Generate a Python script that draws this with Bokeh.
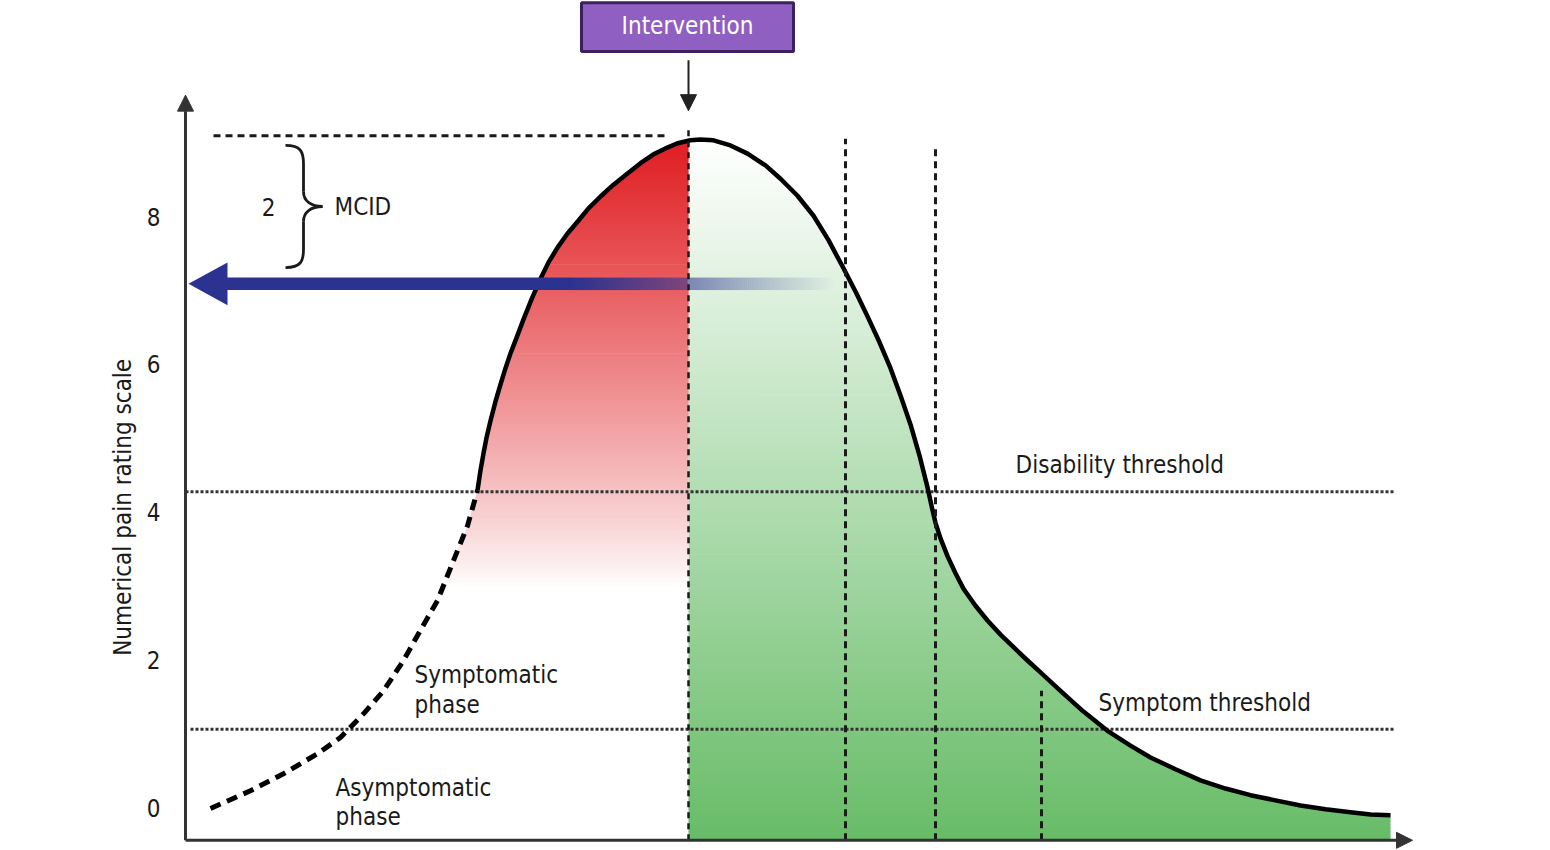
import numpy as np
from bokeh.plotting import figure
from bokeh.models import Range1d, Arrow, NormalHead, ColumnDataSource
from bokeh.core.properties import value
from bokeh.embed import file_html
from bokeh.resources import INLINE

# ---------------- data (x: time units, y: pain rating) ----------------
curve_x = [0.25, 0.65, 0.98, 1.32, 1.55, 1.78, 1.98, 2.18, 2.35, 2.52, 2.68, 2.82, 2.92,
           2.95, 2.98, 3.01, 3.05, 3.10, 3.15, 3.20, 3.25, 3.31, 3.38,
           3.46, 3.55, 3.63, 3.72, 3.82, 3.92, 4.03, 4.15, 4.28, 4.42,
           4.55, 4.68, 4.80, 4.92, 5.05, 5.15,
           5.28, 5.45, 5.62, 5.80, 5.95, 6.12, 6.28, 6.43, 6.58, 6.71,
           6.82, 6.94, 7.05, 7.15, 7.25, 7.34, 7.42, 7.46, 7.50, 7.55, 7.62,
           7.70, 7.78, 7.90, 8.02, 8.15, 8.28, 8.42, 8.55, 8.75, 8.98,
           9.22, 9.45, 9.65, 9.90, 10.15, 10.40, 10.65, 10.90, 11.15, 11.40,
           11.65, 11.85, 12.05]
curve_y = [0.00, 0.24, 0.47, 0.74, 0.96, 1.28, 1.59, 2.00, 2.41, 2.81, 3.35, 3.82, 4.30,
           4.57, 4.80, 5.01, 5.24, 5.50, 5.73, 5.95, 6.15, 6.36, 6.61,
           6.88, 7.16, 7.38, 7.58, 7.77, 7.93, 8.11, 8.27, 8.43, 8.58,
           8.72, 8.84, 8.92, 8.99, 9.03, 9.04,
           9.03, 8.96, 8.85, 8.69, 8.51, 8.28, 8.01, 7.68, 7.30, 6.96,
           6.65, 6.30, 5.95, 5.58, 5.19, 4.77, 4.34, 4.09, 3.86, 3.65, 3.41,
           3.18, 2.97, 2.74, 2.54, 2.35, 2.18, 2.00, 1.84, 1.59, 1.31,
           1.05, 0.85, 0.69, 0.53, 0.38, 0.27, 0.18, 0.11, 0.04, -0.01,
           -0.05, -0.08, -0.09]
symptom_onset_index = 12          # curve is dashed before this point
peak_index = 38

intervention_x = 5.03
intervention_line_top = 9.23
followup_x = [6.60, 7.50, 8.56]
followup_top = [9.05, 8.96, 1.59]

baseline_pain = 9.09
baseline_line_x = [0.28, 4.80]
mcid_top = 8.96
mcid_bottom = 7.31
mcid_value = "2"

improvement_level = 7.09
improvement_tip = 0.03
improvement_solid_to = 3.85
improvement_fade_to = 6.50

disability_threshold = 4.28
symptom_threshold = 1.07
threshold_x_end = 12.10

y_ticks = [0, 2, 4, 6, 8]
y_tick_labels = ["0", "2", "4", "6", "8"]
axis_title = "Numerical pain rating scale"

phase_labels = ["Symptomatic", "phase", "Asymptomatic", "phase"]
threshold_labels = ["Disability threshold", "Symptom threshold"]
intervention_label = "Intervention"
mcid_label = "MCID"

# ---------------- layout / style constants ----------------
FONT = "DejaVu Sans Condensed"
FS = "24px"
TXT = "#1a1a1a"
AX = "#333333"
y_floor = -0.43
x_axis_end = 12.27
y_axis_top = 9.64
RED = (224, 34, 38)
GREEN = (103, 188, 103)
BLUE = (43, 50, 144)
red_fade_bottom = 3.01


def hexc(c):
    return "#%02x%02x%02x" % tuple(int(round(min(255, max(0, v)))) for v in c)


def over(bg, c, a):
    return tuple(b + (ci - b) * a for b, ci in zip(bg, c))


WHITE = (255, 255, 255)


def red_alpha(y):
    return float(np.clip((y - red_fade_bottom) / 5.88, 0, 1) ** 0.85)


def green_alpha(y):
    return float(np.clip((9.03 - y) / 9.46, 0, 1))


phase_x = [2.29, 2.29, 1.50, 1.50]
phase_y = [1.80, 1.40, 0.28, -0.11]
threshold_label_x = [8.30, 9.13]
threshold_label_y = [4.64, 1.43]

p = figure(width=1550, height=850, x_range=Range1d(-1.85, 13.65),
           y_range=Range1d(-0.56757, 10.91892), output_backend="svg",
           toolbar_location=None, min_border=0,
           x_axis_location=None, y_axis_location=None)
p.grid.visible = False
p.outline_line_color = None
p.background_fill_color = "white"
p.border_fill_color = "white"

cx = np.array(curve_x)
cy = np.array(curve_y)
asc_x, asc_y = cx[:peak_index + 1], cy[:peak_index + 1]
desc_x, desc_y = cx[peak_index:], cy[peak_index:]
y_at_int = float(np.interp(intervention_x, cx, cy))


def x_right(y):
    return float(np.interp(y, desc_y[::-1], desc_x[::-1]))


def x_left(y):
    return float(np.interp(y, asc_y, asc_x))


NB = 220
eps = 0.01

# ---- green (post-intervention) area: opaque horizontal bands ----
g_edges = np.linspace(y_floor, y_at_int, NB + 1)
gxs, gys, gc = [], [], []
for j in range(NB):
    lo = g_edges[j] - (eps if j > 0 else 0.0)
    hi = g_edges[j + 1]
    m = (desc_y > lo) & (desc_y < hi)
    gxs.append([intervention_x, x_right(lo)] + list(desc_x[m][::-1]) + [x_right(hi), intervention_x])
    gys.append([lo, lo] + list(desc_y[m][::-1]) + [hi, hi])
    gc.append(hexc(over(WHITE, GREEN, green_alpha((g_edges[j] + hi) / 2))))
p.patches(xs="xs", ys="ys", fill_color="c", line_color=None,
          source=ColumnDataSource(dict(xs=gxs, ys=gys, c=gc)))

# ---- red (pre-intervention) area: opaque horizontal bands ----
r_edges = np.linspace(red_fade_bottom, y_at_int, NB + 1)
rxs, rys, rc = [], [], []
for j in range(NB):
    lo = r_edges[j] - (eps if j > 0 else 0.0)
    hi = r_edges[j + 1]
    m = (asc_y > lo) & (asc_y < hi) & (asc_x < intervention_x)
    rxs.append([x_left(lo), intervention_x, intervention_x, x_left(hi)] + list(asc_x[m][::-1]))
    rys.append([lo, lo, hi, hi] + list(asc_y[m][::-1]))
    rc.append(hexc(over(WHITE, RED, red_alpha((r_edges[j] + hi) / 2))))
p.patches(xs="xs", ys="ys", fill_color="c", line_color=None,
          source=ColumnDataSource(dict(xs=rxs, ys=rys, c=rc)))

# ---- reference lines (horizontal) ----
p.line(baseline_line_x, [baseline_pain, baseline_pain], line_color="#1a1a1a",
       line_width=3, line_dash="7 5")
p.line([0, threshold_x_end], [disability_threshold, disability_threshold],
       line_color=AX, line_width=3, line_dash="3 2")
p.line([0.05, threshold_x_end], [symptom_threshold, symptom_threshold],
       line_color=AX, line_width=3, line_dash="3 2")

# ---- pain curve ----
k = symptom_onset_index
p.line(curve_x[:k + 1], curve_y[:k + 1], line_color="black", line_width=5, line_dash="11 7")
p.line(curve_x[k:], curve_y[k:], line_color="black", line_width=4.5, line_join="round")

# ---- blue improvement arrow with fading shaft (opaque pre-blended slices) ----
half = 0.084
yl = improvement_level
xl_b, xr_b = x_left(yl), x_right(yl)
bg_red = over(WHITE, RED, red_alpha(yl))
bg_green = over(WHITE, GREEN, green_alpha(yl))
p.quad(left=[improvement_tip + 0.37], right=[improvement_solid_to], bottom=[yl - half],
       top=[yl + half], fill_color=hexc(BLUE), line_color=None)
NS = 133
b_edges = np.linspace(improvement_solid_to, improvement_fade_to, NS + 1)
bl, br, bc = [], [], []
for j in range(NS):
    a, b = b_edges[j], b_edges[j + 1]
    xm = (a + b) / 2
    A = 1 - (xm - improvement_solid_to) / (improvement_fade_to - improvement_solid_to)
    if xl_b <= xm < intervention_x:
        bg = bg_red
    elif intervention_x <= xm <= xr_b:
        bg = bg_green
    else:
        bg = WHITE
    bl.append(a - 0.005)
    br.append(b)
    bc.append(hexc(over(bg, BLUE, A)))
p.quad(left=bl, right=br, bottom=yl - half, top=yl + half, fill_color=bc, line_color=None)
p.patch([improvement_tip, improvement_tip + 0.39, improvement_tip + 0.39],
        [yl, yl + 0.29, yl - 0.29], fill_color=hexc(BLUE), line_color=None)

# ---- vertical dashed lines ----
p.multi_line(xs=[[x, x] for x in followup_x], ys=[[y_floor, t] for t in followup_top],
             line_color="#1a1a1a", line_width=3, line_dash="7 5")
p.line([intervention_x, intervention_x], [y_floor, intervention_line_top],
       line_color="#1a1a1a", line_width=2.5, line_dash="6 5")

# ---- axes drawn as arrows ----
p.add_layout(Arrow(end=NormalHead(size=16, fill_color=AX, line_color=AX),
                   x_start=0, y_start=y_floor, x_end=0, y_end=y_axis_top,
                   line_color=AX, line_width=3))
p.add_layout(Arrow(end=NormalHead(size=16, fill_color=AX, line_color=AX),
                   x_start=0, y_start=y_floor, x_end=x_axis_end, y_end=y_floor,
                   line_color=AX, line_width=3))

p.text(x=[-0.25] * len(y_ticks), y=y_ticks, text=y_tick_labels, text_font=value(FONT),
       text_font_size=FS, text_align="right", text_baseline="middle", text_color=TXT)
p.text(x=[-0.63], y=[4.07], text=[axis_title], angle=np.pi / 2, text_font=value(FONT),
       text_font_size=FS, text_align="center", text_baseline="middle", text_color=TXT)

# ---- MCID brace ----
xe, xs_, xt = 1.00, 1.18, 1.37
ym = (mcid_top + mcid_bottom) / 2
segs = [
    (xe, mcid_top, xs_, mcid_top - 0.25, xs_ - 0.03, mcid_top, xs_, mcid_top - 0.08),
    (xs_, mcid_top - 0.25, xs_, ym + 0.2, xs_, mcid_top - 0.3, xs_, ym + 0.25),
    (xs_, ym + 0.2, xt, ym, xs_, ym + 0.07, xs_ + 0.08, ym),
    (xt, ym, xs_, ym - 0.2, xs_ + 0.08, ym, xs_, ym - 0.07),
    (xs_, ym - 0.2, xs_, mcid_bottom + 0.25, xs_, ym - 0.25, xs_, mcid_bottom + 0.3),
    (xs_, mcid_bottom + 0.25, xe, mcid_bottom, xs_, mcid_bottom + 0.08, xs_ - 0.03, mcid_bottom),
]
s = np.array(segs)
p.bezier(x0=s[:, 0], y0=s[:, 1], x1=s[:, 2], y1=s[:, 3], cx0=s[:, 4], cy0=s[:, 5],
         cx1=s[:, 6], cy1=s[:, 7], line_color="#1a1a1a", line_width=2.8)
p.text(x=[0.83], y=[ym], text=[mcid_value], text_font=value(FONT), text_font_size=FS,
       text_align="center", text_baseline="middle", text_color=TXT)
p.text(x=[1.49], y=[ym], text=[mcid_label], text_font=value(FONT), text_font_size=FS,
       text_align="left", text_baseline="middle", text_color=TXT)

# ---- phase and threshold labels ----
p.text(x=phase_x, y=phase_y, text=phase_labels, text_font=value(FONT), text_font_size=FS,
       text_align="left", text_baseline="middle", text_color=TXT)
p.text(x=threshold_label_x, y=threshold_label_y, text=threshold_labels, text_font=value(FONT),
       text_font_size=FS, text_align="left", text_baseline="middle", text_color=TXT)

# ---- intervention box and arrow ----
p.quad(left=[3.96], right=[6.08], bottom=[10.23], top=[10.89],
       fill_color="#8f60c2", line_color="#3c2160", line_width=3)
p.text(x=[5.02], y=[10.57], text=[intervention_label], text_font=value(FONT),
       text_font_size=FS, text_align="center", text_baseline="middle", text_color="white")
p.add_layout(Arrow(end=NormalHead(size=16, fill_color="#222222", line_color="#222222"),
                   x_start=intervention_x, y_start=10.11, x_end=intervention_x, y_end=9.43,
                   line_color="#222222", line_width=2))

open("out.html", "w").write(file_html(p, INLINE))
